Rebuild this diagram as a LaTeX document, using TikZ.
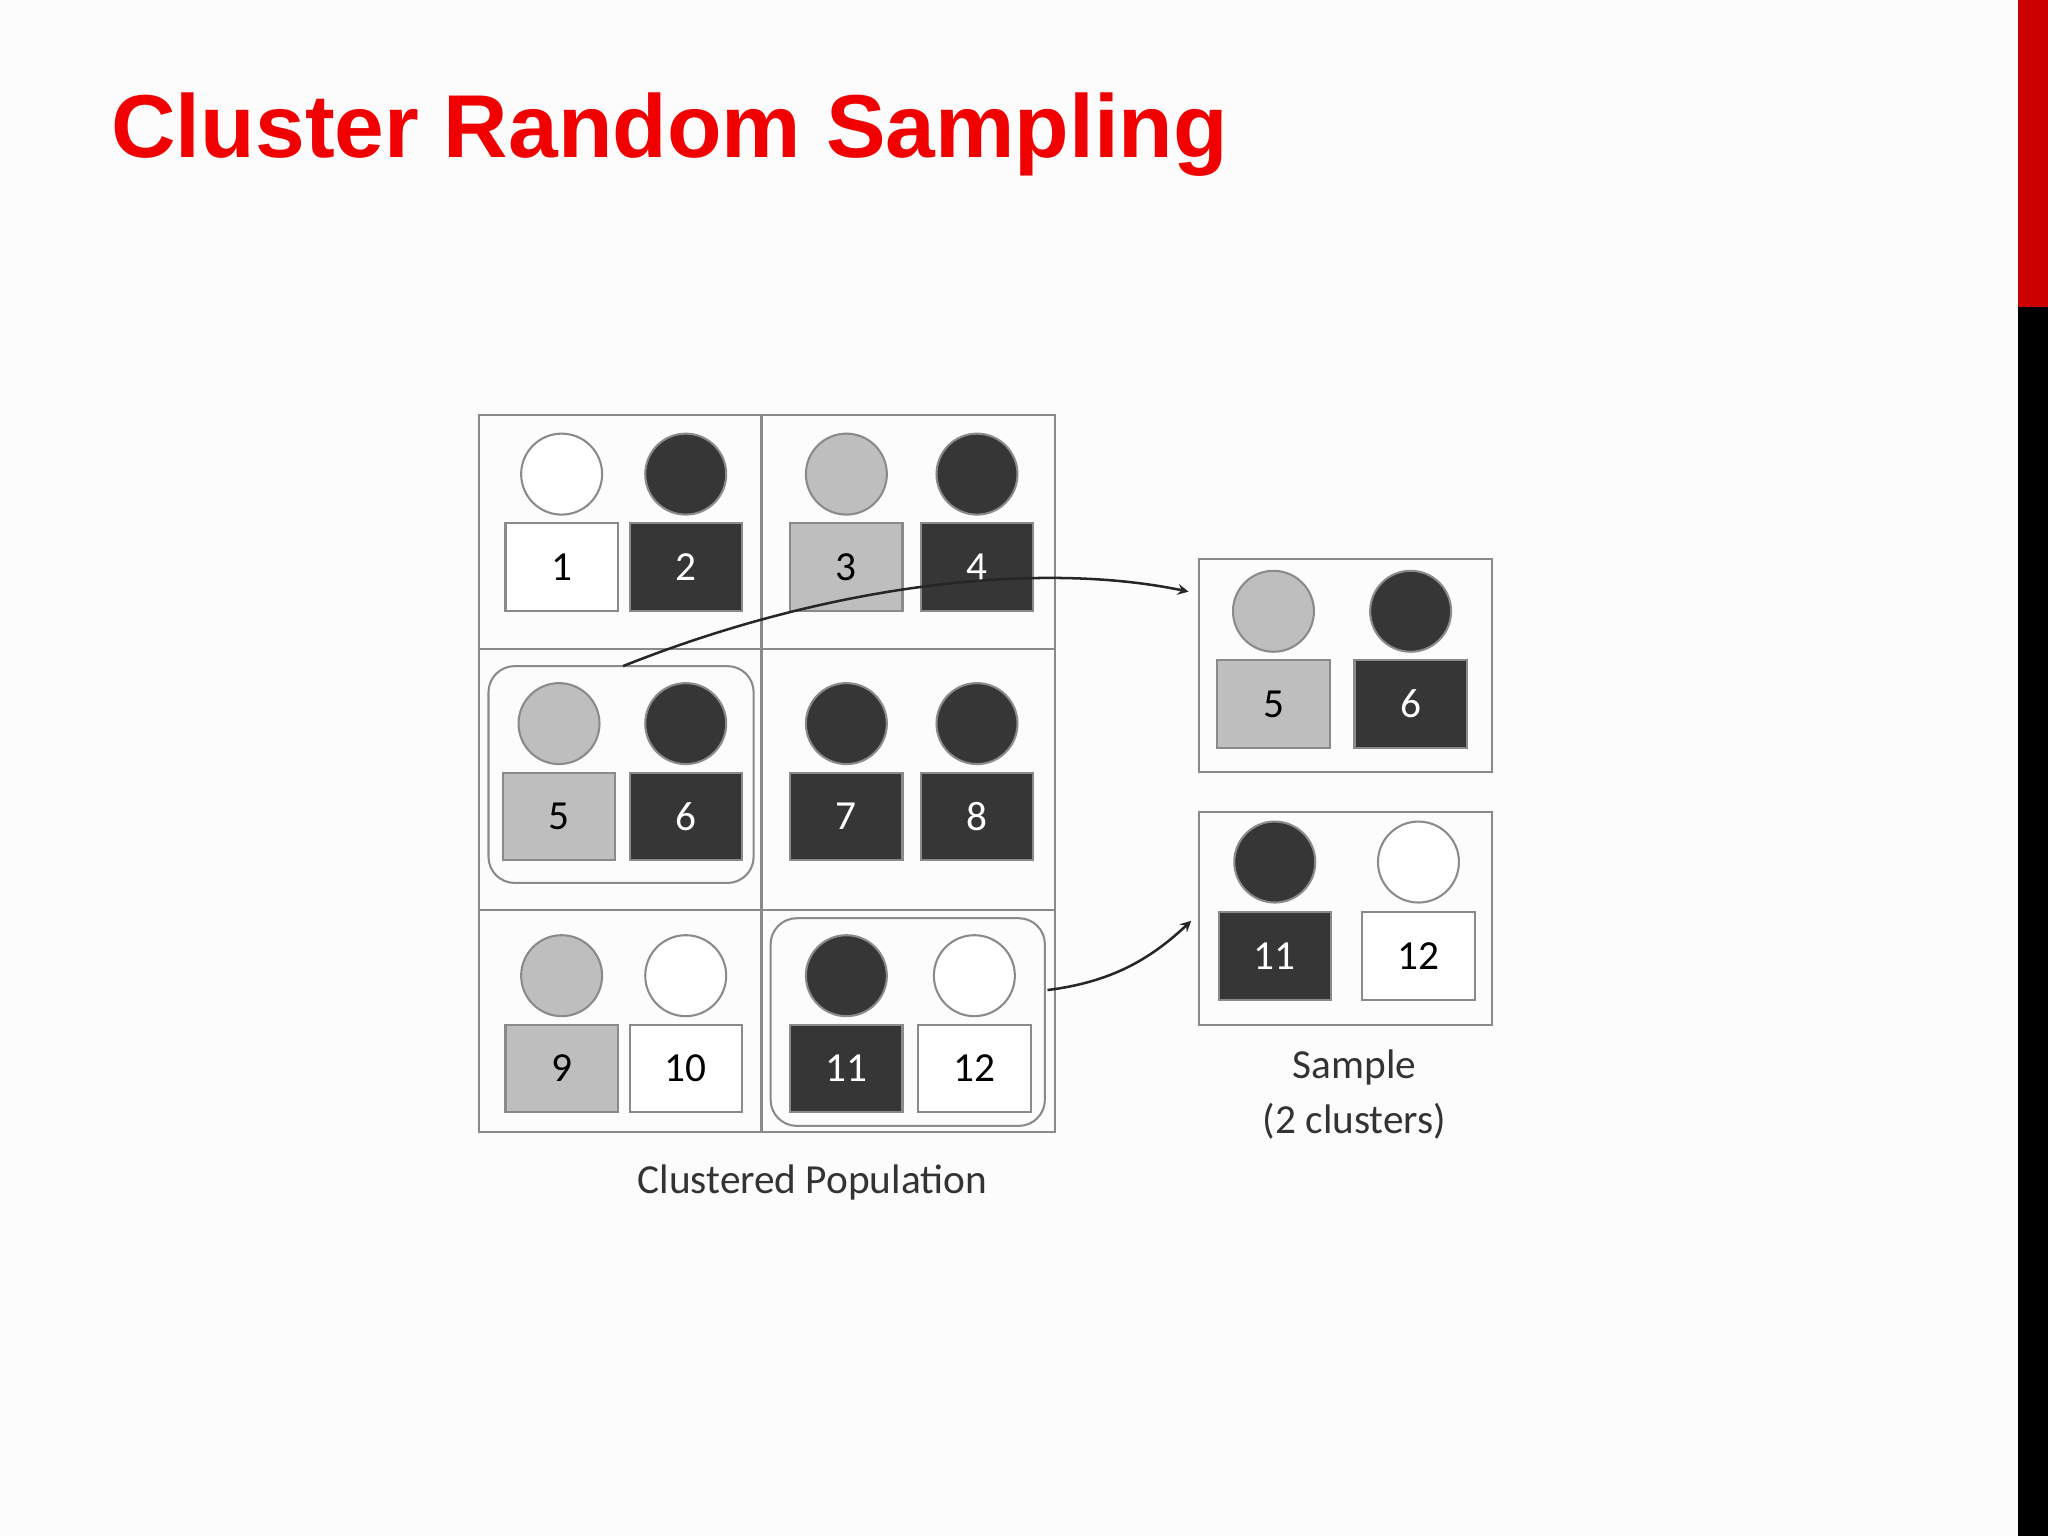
\documentclass[tikz,border=0pt]{standalone}
\usepackage{fontspec}
\usepackage{graphicx}
\setmainfont{Carlito}
\newfontfamily\titlefont{Liberation Sans}
\definecolor{dk}{HTML}{363636}
\definecolor{lg}{HTML}{BEBEBE}
\definecolor{ed}{HTML}{8A8A8A}
\definecolor{tred}{HTML}{F00000}
\tikzset{
 pcirc/.style={circle,draw=ed,line width=0.9pt,minimum size=1.24cm,inner sep=0pt},
 psq/.style={rectangle,draw=ed,line width=0.9pt,minimum width=1.72cm,minimum height=1.34cm,inner sep=0pt,font=\fontsize{18}{20}\selectfont},
 wh/.style={fill=white,text=black},
 gr/.style={fill=lg,text=black},
 bk/.style={fill=dk,text=white},
 frame/.style={draw=ed,line width=0.9pt},
 lbl/.style={font=\fontsize{18}{22}\selectfont,text=black!80}
}
\begin{document}
\begin{tikzpicture}[x=0.02cm,y=-0.02cm]
\useasboundingbox (0,0) rectangle (1568,1176);
\fill[white!98!gray] (0,0) rectangle (1545,1176);
\fill[tred!85!black] (1545,0) rectangle (1568,235);
\fill[black] (1545,235) rectangle (1568,1176);
\node[anchor=west,text=tred,inner sep=0pt] (title) at (85,103) {\resizebox{17.1cm}{!}{\titlefont\bfseries Cluster Random Sampling}};
% population grid
\draw[frame] (367,318) rectangle (808,867);
\draw[frame] (583,318) -- (583,867);
\draw[frame] (367,497) -- (808,497);
\draw[frame] (367,697) -- (808,697);
% person macro: name, x, circle y, square y, style, number
\newcommand\person[6]{%
 \node[pcirc,#5] (c#1) at (#2,#3) {};
 \node[psq,#5] (s#1) at (#2,#4) {#6};}
\person{1}{430}{363}{434}{wh}{1}
\person{2}{525}{363}{434}{bk}{2}
\person{3}{648}{363}{434}{gr}{3}
\person{4}{748}{363}{434}{bk}{4}
\person{5}{428}{554}{625}{gr}{5}
\person{6}{525}{554}{625}{bk}{6}
\person{7}{648}{554}{625}{bk}{7}
\person{8}{748}{554}{625}{bk}{8}
\person{9}{430}{747}{818}{gr}{9}
\person{10}{525}{747}{818}{wh}{10}
\person{11}{648}{747}{818}{bk}{11}
\person{12}{746}{747}{818}{wh}{12}
\draw[frame,rounded corners=0.4cm] (374,510) rectangle (577,676);
\draw[frame,rounded corners=0.4cm] (590,703) rectangle (800,862);
% sample boxes
\draw[frame] (918,428) rectangle (1142,591);
\draw[frame] (918,622) rectangle (1142,785);
\person{s5}{975}{468}{539}{gr}{5}
\person{s6}{1080}{468}{539}{bk}{6}
\person{s11}{976}{660}{732}{bk}{11}
\person{s12}{1086}{660}{732}{wh}{12}
\coordinate (a1s) at (477,510);
\coordinate (a1e) at (910,453);
\coordinate (a2s) at (802,758);
\coordinate (a2e) at (912,705);
\draw[-stealth,line width=1.1pt,black!85] (a1s) .. controls (640,445) and (800,430) .. (a1e);
\draw[-stealth,line width=1.1pt,black!85] (a2s) .. controls (850,752) and (880,735) .. (a2e);
\node[lbl] (cp) at (622,905) {Clustered Population};
\node[lbl,align=center] (smp) at (1037,838) {Sample\\[2pt](2 clusters)};
\end{tikzpicture}
\end{document}
